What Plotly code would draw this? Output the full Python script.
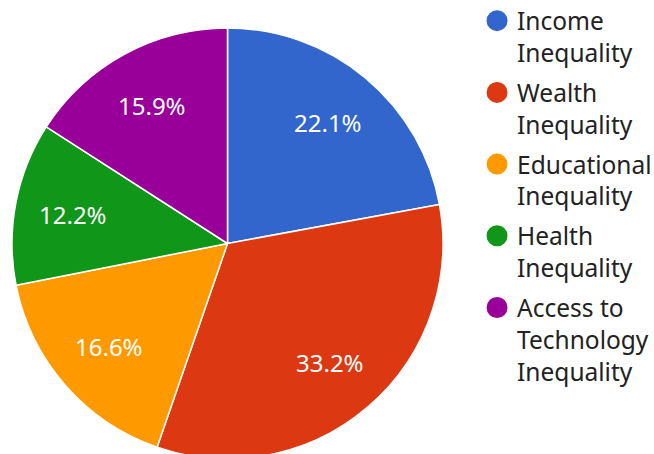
import math
import plotly.graph_objects as go

categories = ["Income<br>Inequality", "Wealth<br>Inequality", "Educational<br>Inequality",
              "Health<br>Inequality", "Access to<br>Technology<br>Inequality"]
values = [22.1, 33.2, 16.6, 12.2, 15.9]
colors = ["#3366cc", "#dc3912", "#ff9900", "#109618", "#990099"]

FONT = "Noto Sans"
LABEL_R = 0.73  # label distance as a fraction of the pie radius

fig = go.Figure()
fig.add_trace(go.Pie(
    labels=categories, values=values, sort=False, direction="clockwise", rotation=0,
    marker=dict(colors=colors, line=dict(color="white", width=1.5)),
    textinfo="none",
    showlegend=False, hoverinfo="label+percent",
    domain=dict(x=[0, 1], y=[0, 1]),
))

# percentage labels, placed at the middle angle of each slice
total = sum(values)
cum = 0.0
for v in values:
    mid = (cum + v / 2) / total * 2 * math.pi
    cum += v
    fig.add_annotation(
        x=0.5 + 0.5 * LABEL_R * math.sin(mid), y=0.5 + 0.5 * LABEL_R * math.cos(mid),
        xref="paper", yref="paper", text=f"{v / total * 100:.1f}%", showarrow=False,
        font=dict(family=FONT, size=24, color="white"), xanchor="center", yanchor="middle",
    )

for i, (name, c) in enumerate(zip(categories, colors)):
    fig.add_trace(go.Scatter(
        x=[None], y=[None], mode="markers", name=name, legendgroup=f"g{i}",
        marker=dict(color=c, size=16, symbol="circle", line=dict(color=c, width=5)),
        showlegend=True,
    ))

fig.update_layout(
    width=654, height=470,
    margin=dict(l=12, r=211, t=28, b=11, autoexpand=False),
    paper_bgcolor="white", plot_bgcolor="white",
    font=dict(family=FONT, size=24.5, color="#222222"),
    xaxis=dict(visible=False), yaxis=dict(visible=False),
    legend=dict(x=1.079, y=1.069, xanchor="left", yanchor="top", maxheight=1,
                valign="top", tracegroupgap=5, itemsizing="trace",
                font=dict(family=FONT, size=24.5, color="#222222")),
)
fig.write_html("out.html", config={"displayModeBar": False},
               post_script="document.body.style.overflow='hidden';document.body.style.margin='0';")
